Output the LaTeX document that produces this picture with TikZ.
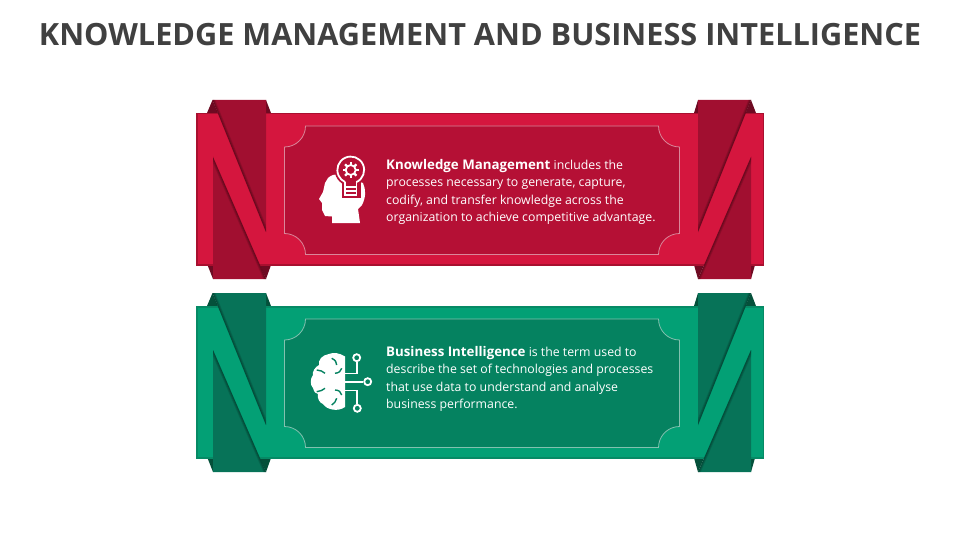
\documentclass[tikz,border=0pt]{standalone}
\usepackage{fontspec}
\setmainfont{Open Sans}
\definecolor{redband}{HTML}{D5163E}
\definecolor{redpanel}{HTML}{B51035}
\definecolor{redfold}{HTML}{A10F30}
\definecolor{redcorner}{HTML}{6E0A22}
\definecolor{rededge}{HTML}{A8102F}
\definecolor{greenband}{HTML}{03A075}
\definecolor{greenpanel}{HTML}{058260}
\definecolor{greenfold}{HTML}{077358}
\definecolor{greencorner}{HTML}{04503A}
\definecolor{greenedge}{HTML}{068A65}
\newcommand{\leadfont}{\bfseries\fontsize{13.3}{17.4}\selectfont}
\tikzset{
  titletext/.style={text=black!75,font=\bfseries\fontsize{30.65}{36}\selectfont,anchor=center},
  bodytext/.style={text=white,font=\fontsize{12.3}{17.4}\selectfont,align=left,anchor=west,inner sep=0pt},
  iconline/.style={draw=white,line width=1.8pt},
  braincut/.style={draw=greenpanel,line width=1.4pt},
  foldshade/.style={line width=#1,draw=black,opacity=0.13},
}
% #1 band, #2 panel, #3 fold, #4 corner, #5 edge
\newcommand{\foldband}[5]{
  %% Corners behind the band
  \fill[#4] (207,113) -- (212.5,100) -- (218,113) -- cycle;
  \fill[#4] (266,100) -- (271,113) -- (266,113) -- cycle;
  \fill[#4] (207.5,265) -- (213,265) -- (213,279) -- cycle;
  \fill[#4] (259,265) -- (271,265) -- (266,279) -- cycle;
  \fill[#4] (694,113) -- (698,100) -- (698,113) -- cycle;
  \fill[#4] (745.5,113) -- (751,100) -- (756,113) -- cycle;
  \fill[#4] (694,265) -- (704,265) -- (698,279) -- cycle;
  \fill[#4] (751,265) -- (755,265) -- (751,279) -- cycle;
  %% Band
  \draw[#5,fill=#1,line width=1.5pt] (196.75,113.75) rectangle (763.25,264.75);
  %% Folds
  \fill[#3] (212.5,100) -- (266,100) -- (266,232) -- cycle;
  \fill[#3] (213,157) -- (266,279) -- (213,279) -- cycle;
  \fill[#3] (698,100) -- (751,100) -- (698,232) -- cycle;
  \fill[#3] (751,157) -- (751,279) -- (698,279) -- cycle;
  %% Shadows
  \foreach \wid in {5,3.2,1.6}{
    \begin{scope}
      \clip (212.5,100) -- (266,100) -- (266,232) -- cycle;
      \draw[foldshade=\wid pt] (212.5,100) -- (266,232);
    \end{scope}
    \begin{scope}
      \clip (213,157) -- (266,279) -- (213,279) -- cycle;
      \draw[foldshade=\wid pt] (213,157) -- (266,279);
    \end{scope}
    \begin{scope}
      \clip (698,100) -- (751,100) -- (698,232) -- cycle;
      \draw[foldshade=\wid pt] (751,100) -- (698,232);
    \end{scope}
    \begin{scope}
      \clip (751,157) -- (751,279) -- (698,279) -- cycle;
      \draw[foldshade=\wid pt] (751,157) -- (698,279);
    \end{scope}
  }
  %% Panel
  \draw[#2!50!white,fill=#2,line width=0.8pt] (305.5,126) -- (658.5,126)
    arc[start angle=180,end angle=270,radius=21pt] -- (679.5,233.5)
    arc[start angle=90,end angle=180,radius=21pt] -- (305.5,254.5)
    arc[start angle=0,end angle=90,radius=21pt] -- (284.5,147)
    arc[start angle=270,end angle=360,radius=21pt] -- cycle;
}
\begin{document}
\begin{tikzpicture}[x=1pt,y=-1pt]
  \useasboundingbox (0,0) rectangle (960,540);
  \fill[white] (0,0) rectangle (960,540);
  %% Title
  \node[titletext] (title) at (480,35) {KNOWLEDGE MANAGEMENT AND BUSINESS INTELLIGENCE};
  %% Bands
  \foldband{redband}{redpanel}{redfold}{redcorner}{rededge}
  \begin{scope}[yshift=-193pt]
    \foldband{greenband}{greenpanel}{greenfold}{greencorner}{greenedge}
  \end{scope}
  %% Head
  \fill[white] (328,178) .. controls (331,175) and (335,174) .. (338,175)
    -- (363,183) .. controls (366,190) and (366,197) .. (362,205)
    -- (358,209) -- (360,223) -- (332,223) -- (332,216.5) -- (325,216)
    -- (322,210) -- (322,203) -- (319,199) -- (323,192) -- (325,183) -- cycle;
  \fill[redpanel] (350.7,170) circle (16);
  \fill[redpanel] (342,182) rectangle (360.5,198);
  %% Bulb
  \draw[iconline] (356.4,182.1) arc[start angle=-65,end angle=245,radius=13.4pt];
  \draw[iconline] (345,182.1) -- (345,196) (356.4,182.1) -- (356.4,196);
  \draw[iconline] (345,186.7) -- (356.4,186.7) (345,190.8) -- (356.4,190.8);
  \draw[iconline] (345,195) -- (356.4,195);
  \draw[iconline] (350.7,170) circle (5);
  \foreach \ang in {0,45,...,315}{
    \draw[white,line width=2.2pt] (350.7,170) ++(\ang:5) -- ++(\ang:3);
  }
  %% Brain
  \fill[white] (345,356.5) .. controls (340,353) and (333,352) .. (329,354)
    .. controls (322,355) and (318,360) .. (319,365)
    .. controls (315,367) and (312,372) .. (313,375)
    .. controls (310,379) and (310,385) .. (313,388)
    .. controls (314,392) and (316,394) .. (318,394)
    .. controls (317,399) and (320,403) .. (323,404)
    .. controls (327,410) and (338,412) .. (345,407) -- cycle;
  \draw[braincut] (331.7,358.3) .. controls (335,360) and (337,362) .. (336.7,365);
  \draw[braincut] (335,373.3) .. controls (339,373) and (341,371) .. (341.7,368.3);
  \draw[braincut] (316.7,370) .. controls (320,370) and (323,371.5) .. (325,373.3);
  \draw[braincut] (316.7,391.7) .. controls (320,391.5) and (323,390) .. (325,388.3);
  \draw[braincut] (335,390) .. controls (339,390) and (341,392) .. (341.7,395);
  \draw[braincut] (331.7,405) .. controls (334,404) and (336,401) .. (336.7,398.3);
  %% Circuit
  \node[circle,iconline,inner sep=0pt,minimum size=7pt] (upper) at (356.7,357.7) {};
  \node[circle,iconline,inner sep=0pt,minimum size=7pt] (middle) at (367.7,381.7) {};
  \node[circle,iconline,inner sep=0pt,minimum size=7pt] (lower) at (357.3,408.3) {};
  \coordinate (upperstart) at (345,373.5);
  \coordinate (middlestart) at (345,381.7);
  \coordinate (lowerstart) at (345,390.5);
  \draw[iconline] (upperstart) -| (upper.south);
  \draw[iconline] (middlestart) -- (middle.west);
  \draw[iconline] (lowerstart) -| (lower.north);
  %% Text
  \node[bodytext] (kmtext) at (386,192) {{\leadfont Knowledge Management} includes the\\processes necessary to generate, capture,\\codify, and transfer knowledge across the\\organization to achieve competitive advantage.};
  \node[bodytext] (bitext) at (386,379) {{\leadfont Business Intelligence} is the term used to\\describe the set of technologies and processes\\that use data to understand and analyse\\business performance.};
\end{tikzpicture}
\end{document}
